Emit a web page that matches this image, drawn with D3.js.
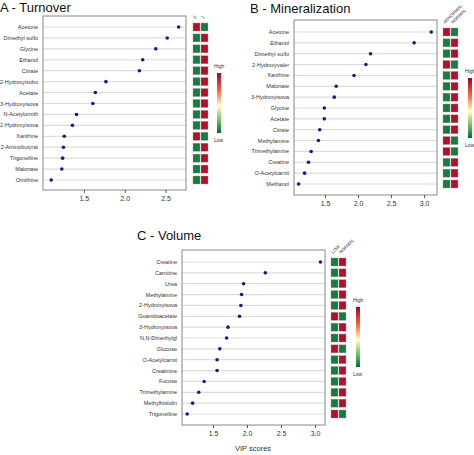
<!DOCTYPE html><html><head><meta charset="utf-8"><script src="https://cdn.jsdelivr.net/npm/d3@7"></script>
<style>body{margin:0;background:#fff}text{font-family:"Liberation Sans",Arial,sans-serif}</style></head><body>
<svg id="c" width="474" height="455"></svg>
<script>
const namesA=["Acetone","Dimethyl sulfo","Glycine","Ethanol","Citrate","2-Hydroxyisobu","Acetate","3-Hydroxyisova","N-Acetylornith","2-Hydroxyisova","Xanthine","2-Aminobutyrat","Trigonelline","Malonate","Ornithine"];
const vipA=[2.66,2.52,2.38,2.22,2.18,1.77,1.64,1.61,1.41,1.36,1.26,1.25,1.24,1.23,1.10];
const heatA=["RG","GR","GR","GR","GR","GR","GR","GR","GR","GR","RG","GR","GR","GR","GR"];
const groupsA=["0","1"];
const namesB=["Acetone","Ethanol","Dimethyl sulfo","2-Hydroxyvaler","Xanthine","Malonate","3-Hydroxyisova","Glycine","Acetate","Citrate","Methylamine","Trimethylamine","Creatine","O-Acetylcarnit","Methanol"];
const vipB=[3.11,2.85,2.19,2.12,1.94,1.67,1.64,1.49,1.49,1.42,1.40,1.29,1.25,1.19,1.10];
const heatB=["RG","GR","GR","RG","GR","GR","GR","GR","GR","GR","RG","RG","GR","GR","GR"];
const groupsB=["ABNORMAL","NORMAL"];
const namesC=["Creatine","Carnitine","Urea","Methylamine","2-Hydroxyisova","Guanidoacetate","3-Hydroxyisova","N,N-Dimethylgl","Glucose","O-Acetylcarnit","Creatinine","Fucose","Trimethylamine","Methylhistidin","Trigonelline"];
const vipC=[3.08,2.27,1.95,1.92,1.91,1.89,1.72,1.70,1.60,1.56,1.56,1.37,1.29,1.20,1.12];
const heatC=["GR","GR","GR","GR","GR","RG","GR","GR","RG","GR","GR","GR","GR","GR","RG"];
const groupsC=["LOW","NORMAL"];
const ticks=[1.5,2.0,2.5,3.0];
const RED="#b0122e",GREEN="#1b7a3f";
const svg=d3.select("#c");
const defs=svg.append("defs");
const lg=defs.append("linearGradient").attr("id","lg").attr("x1",0).attr("x2",0).attr("y1",0).attr("y2",1);
[["0%","#a50026"],["30%","#f46d43"],["55%","#ffffbf"],["80%","#66bd63"],["100%","#006837"]].forEach(s=>lg.append("stop").attr("offset",s[0]).attr("stop-color",s[1]));

function panel(o){
  const g=svg.append("g");
  g.append("text").attr("x",o.tx).attr("y",o.ty).attr("font-size",13).attr("fill","#111").text(o.title);
  const x=d3.scaleLinear().domain(o.dom).range([o.x0,o.x1]);
  const y=d3.scalePoint().domain(o.names).range([o.yA,o.yB]);
  const rows=o.names.map((n,i)=>({n,v:o.vip[i],h:o.heat[i]}));
  g.selectAll(".gl").data(rows).join("line").attr("x1",o.x0).attr("x2",o.x1).attr("y1",d=>y(d.n)).attr("y2",d=>y(d.n)).attr("stroke","#ddd").attr("stroke-width",1.2);
  g.append("rect").attr("x",o.x0).attr("y",o.b0).attr("width",o.x1-o.x0).attr("height",o.b1-o.b0).attr("fill","none").attr("stroke","#888").attr("stroke-width",1);
  const ax=g.append("g").attr("transform",`translate(0,${o.b1})`).call(d3.axisBottom(x).tickValues(ticks.filter(t=>t<=o.dom[1])).tickFormat(d3.format(".1f")).tickSize(3));
  ax.select(".domain").remove();
  ax.selectAll("line").attr("stroke","#555");
  ax.selectAll("text").attr("font-size",7).attr("fill","#333");
  g.selectAll(".lb").data(rows).join("text").attr("x",o.x0-5).attr("y",d=>y(d.n)+2).attr("text-anchor","end").attr("font-size",5.5).attr("fill","#333").text(d=>d.n);
  g.selectAll(".dt").data(rows).join("circle").attr("cx",d=>x(d.v)).attr("cy",d=>y(d.n)).attr("r",1.8).attr("fill","#1a1a80");
  [0,1].forEach(k=>{
    g.selectAll(".h"+k).data(rows).join("rect").attr("x",o.hx+k*8).attr("y",d=>y(d.n)-4).attr("width",7).attr("height",8)
     .attr("fill",d=>d.h[k]==="R"?RED:GREEN).attr("stroke","#999").attr("stroke-width",0.4);
    g.append("text").attr("transform",`translate(${o.hx+k*8+2},${o.yA-8}) rotate(-45)`).attr("font-size",4.5).attr("fill","#333").text(o.groups[k]);
  });
  g.append("rect").attr("x",o.lx).attr("y",o.ly).attr("width",4).attr("height",60).attr("fill","url(#lg)");
  g.append("text").attr("x",o.lx-3).attr("y",o.ly-5).attr("font-size",5).attr("fill","#333").text("High");
  g.append("text").attr("x",o.lx-3).attr("y",o.ly+69).attr("font-size",5).attr("fill","#333").text("Low");
}
panel({title:"A - Turnover",tx:0,ty:12,names:namesA,vip:vipA,heat:heatA,groups:groupsA,dom:[1.0,2.75],x0:43,x1:186,b0:16,b1:190,yA:27,yB:180,hx:193,lx:217,ly:73});
panel({title:"B - Mineralization",tx:250,ty:13,names:namesB,vip:vipB,heat:heatB,groups:groupsB,dom:[1.5-31/66,3.0+13/66],x0:294,x1:437,b0:20,b1:195,yA:32,yB:184,hx:443,lx:468,ly:78});
panel({title:"C - Volume",tx:137,ty:240,names:namesC,vip:vipC,heat:heatC,groups:groupsC,dom:[1.5-31/68,3.0+10/68],x0:182,x1:325,b0:250,b1:425,yA:262,yB:414,hx:331,lx:356,ly:307});
svg.append("text").attr("x",253).attr("y",451).attr("text-anchor","middle").attr("font-size",7.5).attr("fill","#333").text("VIP scores");
</script></body></html>
